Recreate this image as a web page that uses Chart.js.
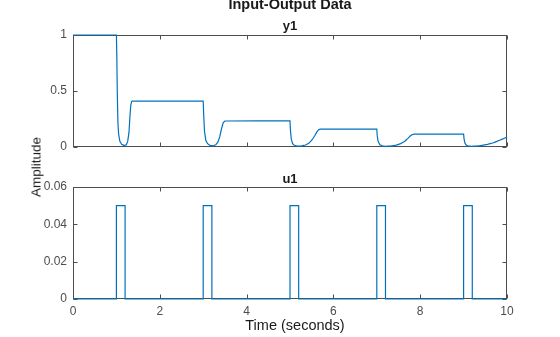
<!DOCTYPE html>
<html>
<head>
<meta charset="utf-8">
<script src="https://cdn.jsdelivr.net/npm/chart.js@4.4.0/dist/chart.umd.min.js"></script>
<style>
    body { margin: 0; background: #fff; }
    #wrap { position: relative; width: 560px; height: 337px; overflow: hidden; font-family: 'Liberation Sans', Arial, sans-serif; }
    #wrap canvas { position: absolute; left: 0; }
    .lbl { position: absolute; transform: translate(-50%, -50%); white-space: nowrap; color: #1a1a1a; }
</style>
</head>
<body>
<div id="wrap">
    <canvas id="yChart" width="560" height="165" style="top:0"></canvas>
    <canvas id="uChart" width="560" height="177" style="top:160px"></canvas>
    <div class="lbl" style="left:290px; top:4px; font-size:14.5px; font-weight:bold">Input-Output Data</div>
    <div class="lbl" style="left:290px; top:25px; font-size:13px; font-weight:bold">y1</div>
    <div class="lbl" style="left:290px; top:178px; font-size:13px; font-weight:bold">u1</div>
    <div class="lbl" style="left:36px; top:167px; font-size:13.5px; transform: translate(-50%, -50%) rotate(-90deg)">Amplitude</div>
    <div class="lbl" style="left:295px; top:325px; font-size:14.5px">Time (seconds)</div>
</div>
<script>
// output y1
const timeY = [0, 1.0, 1.01, 1.02, 1.035, 1.05, 1.08, 1.12, 1.18, 1.23, 1.26, 1.29, 1.31, 1.33, 1.35, 1.37,
    3.0, 3.01, 3.03, 3.06, 3.1, 3.16, 3.23, 3.29, 3.34, 3.38, 3.42, 3.46, 3.5,
    5.0, 5.01, 5.03, 5.06, 5.1, 5.18, 5.27, 5.36, 5.44, 5.51, 5.57, 5.62, 5.66, 5.7,
    7.0, 7.01, 7.03, 7.07, 7.12, 7.2, 7.32, 7.45, 7.55, 7.64, 7.71, 7.77, 7.82, 7.86,
    9.0, 9.01, 9.03, 9.06, 9.1, 9.18, 9.3, 9.42, 9.55, 9.67, 9.78, 9.88, 10]
const y1 = [1, 1, 0.8, 0.5, 0.22, 0.12, 0.05, 0.025, 0.013, 0.02, 0.05, 0.13, 0.26, 0.37, 0.405, 0.41,
    0.41, 0.3, 0.14, 0.06, 0.03, 0.013, 0.01, 0.02, 0.045, 0.09, 0.16, 0.215, 0.232,
    0.233, 0.15, 0.07, 0.03, 0.015, 0.008, 0.01, 0.018, 0.035, 0.065, 0.1, 0.135, 0.155, 0.16,
    0.16, 0.1, 0.05, 0.02, 0.01, 0.006, 0.009, 0.017, 0.03, 0.05, 0.075, 0.098, 0.112, 0.115,
    0.115, 0.075, 0.035, 0.017, 0.009, 0.006, 0.008, 0.014, 0.024, 0.036, 0.052, 0.068, 0.088]

// input u1 (pulses)
const timeU = [0, 1, 1, 1.2, 1.2, 3, 3, 3.2, 3.2, 5, 5, 5.2, 5.2, 7, 7, 7.2, 7.2, 9, 9, 9.2, 9.2, 10]
const u1 = [0, 0, 0.05, 0.05, 0, 0, 0.05, 0.05, 0, 0, 0.05, 0.05, 0, 0, 0.05, 0.05, 0, 0, 0.05, 0.05, 0, 0]

const xTicks = [0, 2, 4, 6, 8, 10]
const yTicksTop = [0, 0.5, 1]
const yTicksBottom = [0, 0.02, 0.04, 0.06]

const lineColor = '#0072BD'
const axisColor = '#4d4d4d'
const fontFamily = "'Liberation Sans', Arial, sans-serif"

// matlab style box with inward tick marks
const boxTicks = {
    id: 'boxTicks',
    beforeDatasetsDraw(chart) {
        const { ctx, chartArea: a, scales: { x, y } } = chart
        const L = Math.round(a.left) + 0.5, R = Math.round(a.right) - 0.5
        const T = Math.round(a.top) + 0.5, B = Math.round(a.bottom) - 0.5
        ctx.save()
        ctx.strokeStyle = axisColor
        ctx.lineWidth = 1
        ctx.strokeRect(L, T, R - L, B - T)
        ctx.beginPath()
        x.ticks.forEach(t => {
            const px = Math.round(x.getPixelForValue(t.value)) + 0.5
            ctx.moveTo(px, B); ctx.lineTo(px, B - 4)
            ctx.moveTo(px, T); ctx.lineTo(px, T + 4)
        })
        y.ticks.forEach(t => {
            const py = Math.round(y.getPixelForValue(t.value)) + 0.5
            ctx.moveTo(L, py); ctx.lineTo(L + 4, py)
            ctx.moveTo(R, py); ctx.lineTo(R - 4, py)
        })
        ctx.stroke()
        ctx.restore()
    }
}

function makeConfig(times, values, yTicks, yMax, showX, pad, xHeight, tension) {
    return {
        type: 'line',
        data: {
            datasets: [{
                data: times.map((t, i) => ({ x: t, y: values[i] })),
                borderColor: lineColor,
                borderWidth: 1.2,
                pointRadius: 0,
                tension: tension,
                fill: false,
                clip: 3
            }]
        },
        options: {
            responsive: false,
            animation: false,
            events: [],
            layout: { padding: pad },
            plugins: { legend: { display: false }, tooltip: { enabled: false } },
            scales: {
                x: {
                    type: 'linear',
                    min: 0,
                    max: 10,
                    grid: { display: false, drawTicks: false },
                    border: { display: false },
                    afterBuildTicks: axis => { axis.ticks = xTicks.map(v => ({ value: v })) },
                    afterFit: axis => { axis.height = xHeight },
                    ticks: {
                        display: showX,
                        padding: 5,
                        color: axisColor,
                        font: { family: fontFamily, size: 12 },
                        callback: v => String(v)
                    }
                },
                y: {
                    min: 0,
                    max: yMax,
                    grid: { display: false, drawTicks: false },
                    border: { display: false },
                    afterBuildTicks: axis => { axis.ticks = yTicks.map(v => ({ value: v })) },
                    afterFit: axis => { axis.width = 73 },
                    ticks: {
                        padding: 6,
                        color: axisColor,
                        font: { family: fontFamily, size: 12 },
                        callback: v => String(v)
                    }
                }
            }
        },
        plugins: [boxTicks]
    }
}

// tiny tension keeps chart.js off its per-pixel fast path for the steep drops
const yChart = new Chart(
    document.getElementById('yChart'),
    makeConfig(timeY, y1, yTicksTop, 1, false, { top: 35, right: 53, bottom: 18, left: 0 }, 0, 0.001)
)

const uChart = new Chart(
    document.getElementById('uChart'),
    makeConfig(timeU, u1, yTicksBottom, 0.06, true, { top: 27, right: 53, bottom: 0, left: 0 }, 38, 0)
)
</script>
</body>
</html>
